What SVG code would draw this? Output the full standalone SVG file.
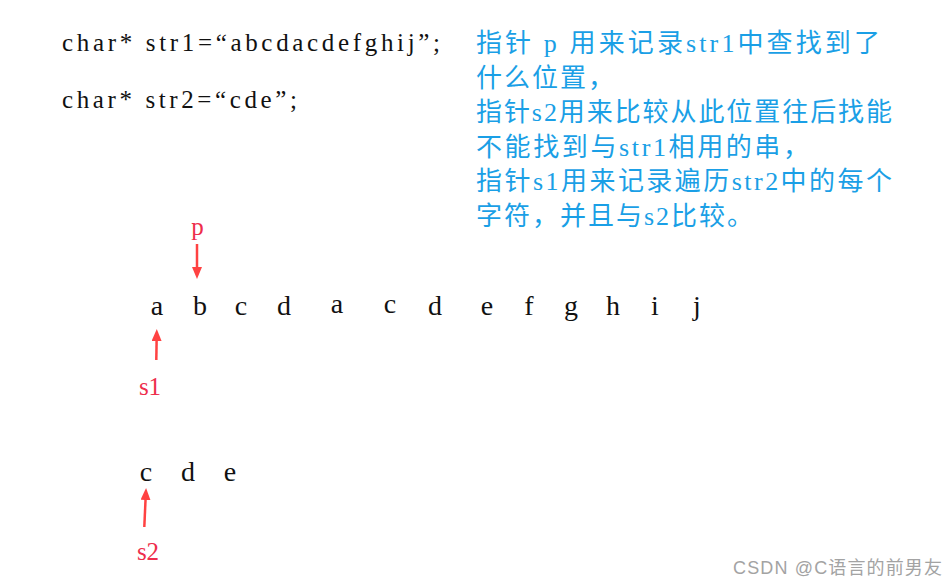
<svg xmlns="http://www.w3.org/2000/svg" width="951" height="586" viewBox="0 0 951 586">
  <defs>
    <style>
      .code { font-family: "Liberation Serif", "Noto Sans CJK SC", serif; font-size: 25px; fill: #111; }
      .note { font-family: "Liberation Serif", "Noto Sans CJK SC", sans-serif; font-size: 26px; fill: #1a9fe6; }
      .ch { font-family: "Liberation Serif", serif; font-size: 28px; fill: #111; text-anchor: middle; }
      .lbl { font-family: "Liberation Serif", serif; font-size: 25px; fill: #ee2e4c; text-anchor: middle; }
      .arrow { stroke: #ff4242; stroke-width: 2.5; fill: none; marker-end: url(#head); }
      .wm { font-family: "Liberation Sans", "Noto Sans CJK SC", sans-serif; font-size: 18px; fill: #a3a3a3; }
    </style>
    <marker id="head" markerUnits="userSpaceOnUse" markerWidth="13" markerHeight="11" refX="6" refY="5" orient="auto">
      <path d="M0,0 L12,5 L0,10 z" fill="#ff4242"/>
    </marker>
  </defs>
  <rect width="951" height="586" fill="#ffffff"/>

  <g id="code">
    <text class="code" x="62" y="51" textLength="378" lengthAdjust="spacing">char* str1=“abcdacdefghij”;</text>
    <text class="code" x="62" y="108" textLength="235" lengthAdjust="spacing">char* str2=“cde”;</text>
  </g>

  <g id="note">
    <text class="note" x="476" y="52" textLength="404" lengthAdjust="spacing">指针 p 用来记录str1中查找到了</text>
    <text class="note" x="476" y="86.5" textLength="138" lengthAdjust="spacing">什么位置，</text>
    <text class="note" x="476" y="121" textLength="416" lengthAdjust="spacing">指针s2用来比较从此位置往后找能</text>
    <text class="note" x="476" y="155.5" textLength="333" lengthAdjust="spacing">不能找到与str1相用的串，</text>
    <text class="note" x="476" y="190" textLength="416" lengthAdjust="spacing">指针s1用来记录遍历str2中的每个</text>
    <text class="note" x="476" y="224.5" textLength="277" lengthAdjust="spacing">字符，并且与s2比较。</text>
  </g>

  <g id="str1-chars">
    <text class="ch" x="157" y="315">a</text>
    <text class="ch" x="200" y="315">b</text>
    <text class="ch" x="241" y="315">c</text>
    <text class="ch" x="284" y="315">d</text>
    <text class="ch" x="337" y="313">a</text>
    <text class="ch" x="390" y="313">c</text>
    <text class="ch" x="435" y="315">d</text>
    <text class="ch" x="487" y="315">e</text>
    <text class="ch" x="529" y="315">f</text>
    <text class="ch" x="571" y="315">g</text>
    <text class="ch" x="613" y="315">h</text>
    <text class="ch" x="655" y="315">i</text>
    <text class="ch" x="697" y="315">j</text>
  </g>

  <g id="str2-chars">
    <text class="ch" x="146" y="481">c</text>
    <text class="ch" x="188" y="481">d</text>
    <text class="ch" x="230" y="481">e</text>
  </g>

  <g id="label-p"><text class="lbl" x="197.5" y="235">p</text></g>
  <g id="label-s1"><text class="lbl" x="150" y="395">s1</text></g>
  <g id="label-s2"><text class="lbl" x="148" y="560">s2</text></g>

  <g id="connectors">
    <line class="arrow" x1="197" y1="244" x2="197" y2="273"/>
    <line class="arrow" x1="156.3" y1="360" x2="156.7" y2="335"/>
    <line class="arrow" x1="144.3" y1="527" x2="145.8" y2="494"/>
  </g>

  <g id="watermark">
    <text class="wm" x="733" y="574" textLength="209" lengthAdjust="spacing">CSDN @C语言的前男友</text>
  </g>
</svg>
